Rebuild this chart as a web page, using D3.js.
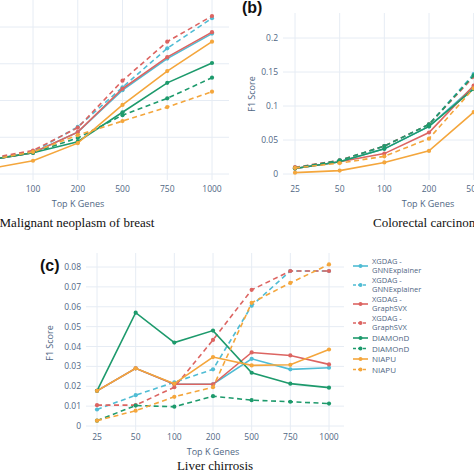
<!DOCTYPE html>
<html>
<head>
<meta charset="utf-8">
<script src="https://cdn.jsdelivr.net/npm/d3@7"></script>
<style>
  body { margin: 0; background: #fff; }
  svg { display: block; }
</style>
</head>
<body>
<svg id="chart" width="474" height="474"></svg>
<script>
'use strict';

// categories on the x axis (Top K)
var topK = ['25', '50', '100', '200', '500', '750', '1000'];

// series names (solid = one setting, dashed = the other)
var names = ['XGDAG - GNNExplainer', 'XGDAG - GNNExplainer', 'XGDAG - GraphSVX', 'XGDAG - GraphSVX',
             'DIAMOnD', 'DIAMOnD', 'NIAPU', 'NIAPU'];
var colors = ['#4fbcd4', '#4fbcd4', '#dc6461', '#dc6461', '#1d9a6c', '#1d9a6c', '#f4a63c', '#f4a63c'];
var dashed = [false, true, false, true, false, true, false, true];

// (a) Malignant neoplasm of breast
var breastValues = [
  [0.011, 0.019, 0.029, 0.057, 0.114, 0.157, 0.191],
  [0.011, 0.020, 0.030, 0.064, 0.118, 0.171, 0.212],
  [0.011, 0.019, 0.029, 0.057, 0.116, 0.159, 0.193],
  [0.012, 0.021, 0.032, 0.063, 0.127, 0.180, 0.215],
  [0.011, 0.019, 0.029, 0.044, 0.084, 0.124, 0.151],
  [0.011, 0.019, 0.029, 0.049, 0.080, 0.103, 0.131],
  [0.003, 0.007, 0.018, 0.042, 0.094, 0.140, 0.180],
  [0.011, 0.019, 0.030, 0.053, 0.072, 0.091, 0.112]
];

// (b) Colorectal carcinoma
var colorectalValues = [
  [0.008, 0.018, 0.037, 0.070, 0.128, 0.170, 0.200],
  [0.009, 0.020, 0.041, 0.073, 0.147, 0.190, 0.220],
  [0.008, 0.018, 0.030, 0.061, 0.130, 0.170, 0.200],
  [0.010, 0.020, 0.041, 0.073, 0.143, 0.185, 0.215],
  [0.008, 0.018, 0.037, 0.070, 0.125, 0.165, 0.195],
  [0.009, 0.020, 0.041, 0.073, 0.145, 0.185, 0.215],
  [0.002, 0.005, 0.017, 0.034, 0.091, 0.130, 0.160],
  [0.009, 0.016, 0.026, 0.052, 0.126, 0.165, 0.195]
];

// (c) Liver chirrosis
var liverValues = [
  [0.0177, 0.029, 0.021, 0.021, 0.0338, 0.0285, 0.0293],
  [0.0083, 0.0155, 0.022, 0.0285, 0.0605, 0.078, 0.078],
  [0.0177, 0.029, 0.021, 0.021, 0.037, 0.0355, 0.031],
  [0.0105, 0.0105, 0.0195, 0.0433, 0.0685, 0.078, 0.078],
  [0.0177, 0.057, 0.042, 0.048, 0.0268, 0.0213, 0.0193],
  [0.0027, 0.0103, 0.0097, 0.015, 0.013, 0.0122, 0.0113],
  [0.0177, 0.029, 0.0213, 0.0347, 0.0305, 0.0308, 0.0385],
  [0.0027, 0.0077, 0.0147, 0.0195, 0.062, 0.072, 0.0813]
];

var breastTicks = [0, 0.05, 0.1, 0.15, 0.2];
var colorectalTicks = [0, 0.05, 0.1, 0.15, 0.2];
var colorectalTickLabels = ['0', '0.05', '0.1', '0.15', '0.2'];
var liverTicks = [0, 0.01, 0.02, 0.03, 0.04, 0.05, 0.06, 0.07, 0.08];
var liverTickLabels = ['0', '0.01', '0.02', '0.03', '0.04', '0.05', '0.06', '0.07', '0.08'];

var svg = d3.select('#chart');
var font = '"Open Sans", Arial, sans-serif';
var tickColor = '#506784';
var gridColor = '#e6ecf4';

function drawPanel(p) {
  var x = d3.scalePoint().domain(topK).range([p.x0, p.x1]);
  var y = d3.scaleLinear().domain([0, p.ymax]).range([p.y0, p.y1]);
  var g = svg.append('g');

  // vertical grid
  g.selectAll('.vg').data(topK).enter().append('line')
    .attr('x1', function(d) { return x(d); }).attr('x2', function(d) { return x(d); })
    .attr('y1', p.top).attr('y2', p.bottom)
    .attr('stroke', gridColor).attr('stroke-width', 1);

  // horizontal grid
  g.selectAll('.hg').data(p.ticks).enter().append('line')
    .attr('x1', p.left).attr('x2', p.right)
    .attr('y1', function(d) { return y(d); }).attr('y2', function(d) { return y(d); })
    .attr('stroke', gridColor).attr('stroke-width', 1);

  // x tick labels (only the ones that land inside the picture, as in the cropped figure)
  var shown = topK.filter(function(d) { return x(d) > 8 && x(d) < 480; });
  g.selectAll('.xt').data(shown).enter().append('text')
    .attr('x', function(d) { return x(d); })
    .attr('y', p.xLabelY)
    .attr('text-anchor', 'middle')
    .attr('font-family', font).attr('font-size', 8.5).attr('fill', tickColor)
    .text(function(d) { return d; });

  // y tick labels
  if (p.tickLabels) {
    g.selectAll('.yt').data(p.ticks).enter().append('text')
      .attr('x', p.left - 5)
      .attr('y', function(d) { return y(d) + 3; })
      .attr('text-anchor', 'end')
      .attr('font-family', font).attr('font-size', 8.5).attr('fill', tickColor)
      .text(function(d, i) { return p.tickLabels[i]; });
  }

  var line = d3.line()
    .x(function(d, i) { return x(topK[i]); })
    .y(function(d) { return y(d); });

  p.values.forEach(function(vals, s) {
    g.append('path')
      .attr('d', line(vals))
      .attr('fill', 'none')
      .attr('stroke', colors[s])
      .attr('stroke-width', 1.6)
      .attr('stroke-dasharray', dashed[s] ? '5,3.5' : null);
    g.selectAll('.pt' + s).data(vals).enter().append('circle')
      .attr('cx', function(d, i) { return x(topK[i]); })
      .attr('cy', function(d) { return y(d); })
      .attr('r', 2.1)
      .attr('fill', colors[s]);
  });

  // axis titles
  g.append('text')
    .attr('x', p.xTitleX).attr('y', p.xTitleY)
    .attr('text-anchor', 'middle')
    .attr('font-family', font).attr('font-size', 9).attr('fill', tickColor)
    .text('Top K Genes');
  if (p.yTitleX) {
    g.append('text')
      .attr('transform', 'translate(' + p.yTitleX + ',' + p.yTitleY + ') rotate(-90)')
      .attr('text-anchor', 'middle')
      .attr('font-family', font).attr('font-size', 9).attr('fill', tickColor)
      .text('F1 Score');
  }
  if (p.label) {
    g.append('text')
      .attr('x', p.labelX).attr('y', p.labelY)
      .attr('font-family', 'Arial, "Liberation Sans", sans-serif')
      .attr('font-weight', 'bold').attr('font-size', 16).attr('fill', '#111')
      .text(p.label);
  }
  // caption
  g.append('text')
    .attr('x', p.capX).attr('y', p.capY)
    .attr('text-anchor', p.capAnchor)
    .attr('font-family', '"Liberation Serif", "Times New Roman", serif')
    .attr('font-size', 13).attr('fill', '#111')
    .text(p.caption);
}

drawPanel({
  values: breastValues, ticks: breastTicks, ymax: 0.2,
  x0: -56.5, x1: 212, y0: 174, y1: 27,
  left: -80, right: 229, top: 0, bottom: 180,
  xLabelY: 192, xTitleX: 78, xTitleY: 207,
  caption: 'Malignant neoplasm of breast', capX: 77, capY: 227, capAnchor: 'middle'
});

drawPanel({
  values: colorectalValues, ticks: colorectalTicks, tickLabels: colorectalTickLabels, ymax: 0.2,
  x0: 295, x1: 563, y0: 174, y1: 38,
  left: 283, right: 600, top: 13, bottom: 180,
  xLabelY: 192, xTitleX: 428, xTitleY: 207,
  yTitleX: 255, yTitleY: 94,
  label: '(b)', labelX: 242, labelY: 13,
  caption: 'Colorectal carcinoma', capX: 373, capY: 227, capAnchor: 'start'
});

drawPanel({
  values: liverValues, ticks: liverTicks, tickLabels: liverTickLabels, ymax: 0.08,
  x0: 97, x1: 329, y0: 426, y1: 267,
  left: 86, right: 344, top: 253, bottom: 431,
  xLabelY: 440, xTitleX: 213, xTitleY: 455,
  yTitleX: 53, yTitleY: 343,
  label: '(c)', labelX: 40, labelY: 271,
  caption: 'Liver chirrosis', capX: 215, capY: 470, capAnchor: 'middle'
});

// legend for (c)
var legendY = [266, 285, 304, 323, 338, 348.5, 359, 369.5];
var legend = svg.append('g');
names.forEach(function(n, s) {
  var parts = n.split(' - ');
  var ly = legendY[s];
  legend.append('line')
    .attr('x1', 353).attr('x2', 368).attr('y1', ly).attr('y2', ly)
    .attr('stroke', colors[s]).attr('stroke-width', 1.6)
    .attr('stroke-dasharray', dashed[s] ? '3,2' : null);
  legend.append('circle').attr('cx', 360.5).attr('cy', ly).attr('r', 2).attr('fill', colors[s]);
  if (parts.length > 1) {
    legend.append('text').attr('x', 372).attr('y', ly - 2)
      .attr('font-family', font).attr('font-size', 7.5).attr('fill', tickColor)
      .text(parts[0] + ' -');
    legend.append('text').attr('x', 372).attr('y', ly + 7)
      .attr('font-family', font).attr('font-size', 7.5).attr('fill', tickColor)
      .text(parts[1]);
  } else {
    legend.append('text').attr('x', 372).attr('y', ly + 3)
      .attr('font-family', font).attr('font-size', 8).attr('fill', tickColor)
      .text(n);
  }
});
</script>
</body>
</html>
